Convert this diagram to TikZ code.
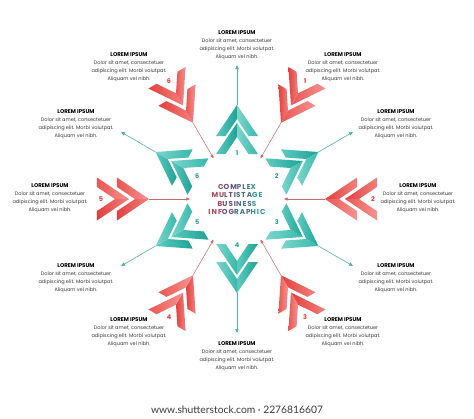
\documentclass[tikz,border=0pt]{standalone}
\usepackage{fontspec}
\setmainfont{Poppins}
\newfontfamily\headfont[LetterSpace=14]{Poppins}
\newfontfamily\footfont{Lato}
\usetikzlibrary{arrows.meta}

\definecolor{tealD}{HTML}{1FA295}
\definecolor{tealL}{HTML}{5CCBBF}
\definecolor{tealM}{HTML}{38B8AB}
\definecolor{redD}{HTML}{E2403D}
\definecolor{redL}{HTML}{F2807C}
\definecolor{redM}{HTML}{EA5652}
\definecolor{tealline}{HTML}{52B2A9}
\definecolor{redline}{HTML}{C86A66}
\definecolor{txtgray}{HTML}{3A3A3A}
\definecolor{hA}{HTML}{A8485E}
\definecolor{hB}{HTML}{6A4E78}
\definecolor{hC}{HTML}{4D6F86}
\definecolor{hD}{HTML}{2E9A95}

\newcommand{\loremtxt}{\textcolor{black}{\fontsize{5.5}{7.9}\selectfont\bfseries LOREM IPSUM}\\Dolor sit amet, consectetuer\\adipiscing elit. Morbi volutpat.\\Aliquam vel nibh.}

\tikzset{
  txt/.style={align=center, anchor=north, inner sep=0pt, text=txtgray, font=\fontsize{5}{7.9}\selectfont},
  tealtop/.style={left color=tealL, right color=tealD},
  tealbot/.style={left color=tealL!80!white, right color=tealM},
  redtop/.style={left color=redD, right color=redL},
  redbot/.style={left color=redM, right color=redL!85!white},
  tarrow/.style={draw=tealline, line width=0.6pt, -{Triangle[length=4pt,width=3.4pt]}},
  rarrow/.style={draw=redline, line width=0.5pt, -{Triangle[length=3.6pt,width=3pt]}},
  tnum/.style={text=tealD, font=\fontsize{6.5}{7}\selectfont\bfseries},
  rnum/.style={text=redD, font=\fontsize{6.5}{7}\selectfont\bfseries},
}

\begin{document}
\begin{tikzpicture}[x=1pt, y=1pt]
\useasboundingbox (-237,-219) rectangle (237,199);

% teal chevrons, pointing out
\foreach \a/\n in {90/1, 30/2, -30/3, -90/4, -150/5, 150/6} {
  \begin{scope}[rotate=\a]
    \foreach \r in {94, 76} {
      \shade[tealtop] (\r,0) -- ++(-31,21) -- ++(0,-9.5) -- (\r-14,0) -- cycle;
      \shade[tealbot] (\r,0) -- (\r-14,0) -- ++(-17,-11.5) -- ++(0,-9.5) -- cycle;
    }
  \end{scope}
  \coordinate (ta\n) at (\a:94);
  \coordinate (te\n) at (\a:134);
  \draw[tarrow] (ta\n) -- (te\n);
  \node[tnum] (tn\n) at (\a:46) {\n};
}

% red chevrons, pointing in
\foreach \a/\n in {60/1, 0/2, -60/3, -120/4, 180/5, 120/6} {
  \begin{scope}[rotate=\a]
    \foreach \r in {88, 108} {
      \shade[redtop] (\r,0) -- ++(32,21.5) -- ++(0,-9.5) -- (\r+14,0) -- cycle;
      \shade[redbot] (\r,0) -- (\r+14,0) -- ++(18,-12) -- ++(0,-9.5) -- cycle;
    }
  \end{scope}
  \coordinate (ra\n) at (\a:88);
  \coordinate (rc\n) at (\a:47);
  \draw[rarrow] (ra\n) -- (rc\n);
  \node[rnum] (rn\n) at (\a:136) {\n};
}

% text blocks
\foreach \nm/\x/\y in {txt1/0/168.5, txr1/106/146.5, txt2/159/89.5, txr2/181/15.5,
    txt3/159/-64.5, txr3/106/-118.5, txt4/0/-142.5, txr4/-108/-118.5,
    txt5/-161/-64.5, txr5/-187/15.5, txt6/-161/89.5, txr6/-108/146.5}
  \node[txt] (\nm) at (\x,\y) {\loremtxt};

% centre title
\node[align=center, font=\headfont\bfseries\fontsize{7.2}{8.4}\selectfont] (head) at (0,-0.5)
  {{\color{hA}C}{\color{hB}OM}{\color{hC}PLE}{\color{hD}X}\\
   {\color{hA}MU}{\color{hB}LTI}{\color{hC}STA}{\color{hD}GE}\\
   {\color{hA}B}{\color{hB}USI}{\color{hC}NES}{\color{hD}S}\\
   {\color{hA}INF}{\color{hB}OG}{\color{hC}RAP}{\color{hD}HIC}};

\node[text=txtgray, font=\footfont\fontsize{10.3}{12}\selectfont] (wm) at (0,-211)
  {www.shutterstock.com · 2276816607};
\end{tikzpicture}
\end{document}
